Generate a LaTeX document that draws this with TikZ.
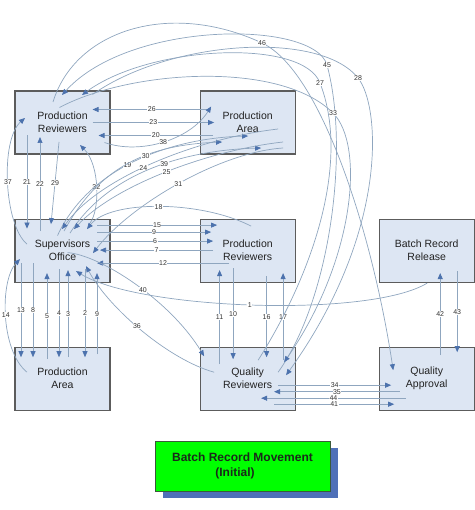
\documentclass[tikz,border=0pt]{standalone}
\usepackage{fontspec}
\setmainfont{Liberation Sans}
\usepackage{tikz}
\usetikzlibrary{arrows.meta, positioning, calc, shadows}
\definecolor{boxfill}{HTML}{DDE6F3}
\definecolor{boxline}{HTML}{5C5C5C}
\definecolor{boxtext}{HTML}{222222}
\definecolor{linkblue}{HTML}{8FA6BF}
\definecolor{tipblue}{HTML}{4C72AD}
\definecolor{lbltext}{HTML}{333333}
\definecolor{titlegreen}{HTML}{00FF00}
\definecolor{titleline}{HTML}{3A5A3A}
\definecolor{titletext}{HTML}{1A2A1A}
\definecolor{shadowblue}{HTML}{4F70B8}
\tikzset{
    box/.style={rectangle, draw=boxline, fill=boxfill, line width=1.1pt, minimum width=95pt, minimum height=63pt, align=center, text=boxtext, font=\fontsize{10.5}{13}\selectfont},
    conn/.style={-{Triangle[length=6pt, width=5pt, color=tipblue]}, draw=linkblue, line width=0.7pt},
    lbl/.style={fill=white, inner sep=0.5pt, text=lbltext, font=\fontsize{7}{8}\selectfont},
    titlebox/.style={rectangle, draw=titleline, fill=titlegreen, line width=1pt, minimum width=175pt, minimum height=50pt, align=center, text=titletext, font=\fontsize{12}{15.5}\selectfont\bfseries, drop shadow={shadow xshift=8pt, shadow yshift=-7pt, fill=shadowblue, opacity=1}}
}
\begin{document}
\begin{tikzpicture}[x=1pt, y=-1pt]
    \useasboundingbox (0,0) rectangle (474,510);

    \node [box] (pr) at (62.5,122.5) {Production\\Reviewers};
    \node [box, right=89pt of pr] (pat) {Production\\Area};
    \node [box, below=64pt of pr] (so) {Supervisors\\Office};
    \node [box, right=89pt of so] (prm) {Production\\Reviewers};
    \node [box, right=83pt of prm] (brr) {Batch Record\\Release};
    \node [box, below=64pt of so] (pab) {Production\\Area};
    \node [box, right=89pt of pab] (qr) {Quality\\Reviewers};
    \node [box, right=83pt of qr] (qa) {Quality\\Approval};

    \node [titlebox] (ttl) at (242.5,466) {Batch Record Movement\\(Initial)\hspace*{15pt}};

    % production reviewers <-> production area
    \draw [conn] ($(pat)+(-36.5,-13)$) -- node [lbl] {26} ($(pr)+(30,-13)$);
    \draw [conn] ($(pr)+(30,0)$) -- node [lbl] {23} ($(pat)+(-33.5,0)$);
    \draw [conn] ($(pat)+(-34.5,13)$) -- node [lbl] {20} ($(pr)+(36,13)$);
    \draw [conn] ($(pr)+(42,20)$) .. controls (140,155) and (190,140) .. ($(pat)+(-36.5,-16)$) node [lbl, pos=.5] {38};

    % production reviewers <-> supervisors office
    \draw [conn] ($(pr)+(-35.5,13)$) -- node [lbl] {21} ($(so)+(-35.5,-22)$);
    \draw [conn] ($(so)+(-22.5,-19.5)$) -- node [lbl] {22} ($(pr)+(-22.5,14.5)$);
    \draw [conn] ($(pr)+(-3.5,19.5)$) -- node [lbl] {29} ($(so)+(-11.5,-26.5)$);
    \draw [conn] ($(so)+(-35.5,-6.5)$) .. controls (4,225) and (0,140) .. ($(pr)+(-37.5,-4.5)$) node [lbl, pos=.5] {37};
    \draw [conn] ($(so)+(27.5,-27.5)$) .. controls (100,210) and (100,165) .. ($(pr)+(17.5,22.5)$) node [lbl, pos=.5] {32};

    % supervisors office <-> production area (top)
    \draw [conn] ($(so)+(-5,-15)$) .. controls (90,165) and (175,138) .. ($(pat)+(0.5,13.5)$) node [lbl, pos=.45] {19};
    \draw [conn] ($(so)+(1.5,-19.5)$) .. controls (100,165) and (150,145) .. ($(pat)+(-25.5,19.5)$) node [lbl, pos=.6] {30};
    \draw [conn] ($(pat)+(30.5,6.5)$) .. controls (200,138) and (100,176) .. ($(so)+(-0.5,-21.5)$) node [lbl, pos=.55] {24};
    \draw [conn] ($(so)+(7.5,-17.5)$) .. controls (110,170) and (190,150) .. ($(pat)+(13.5,25.5)$) node [lbl, pos=.55] {39};
    \draw [conn] ($(pat)+(35.5,19.5)$) .. controls (210,150) and (115,185) .. ($(so)+(11.5,-21.5)$) node [lbl, pos=.5] {25};
    \draw [conn] ($(pat)+(35.5,25.5)$) .. controls (220,152) and (130,205) .. ($(so)+(30.5,2.5)$) node [lbl, pos=.5] {31};

    % supervisors office <-> production reviewers (middle)
    \draw [conn] ($(prm)+(3.5,-24.5)$) .. controls (200,200) and (110,200) .. ($(so)+(24.5,-21.5)$) node [lbl, pos=.5] {18};
    \draw [conn] ($(so)+(34.5,-25.5)$) -- node [lbl] {15} ($(prm)+(-30.5,-25.5)$);
    \draw [conn] ($(so)+(34.5,-18.5)$) -- node [lbl] {9} ($(prm)+(-36.5,-18.5)$);
    \draw [conn] ($(so)+(34.5,-9.5)$) -- node [lbl] {6} ($(prm)+(-34.5,-9.5)$);
    \draw [conn] ($(prm)+(-34.5,-0.5)$) -- node [lbl] {7} ($(so)+(37.5,-0.5)$);
    \draw [conn] ($(prm)+(-18.5,12.5)$) -- node [lbl] {12} ($(so)+(34.5,12.5)$);

    % supervisors office <-> production area (bottom)
    \draw [conn] ($(so)+(-41.5,12.5)$) -- node [lbl] {13} ($(pab)+(-41.5,-21.5)$);
    \draw [conn] ($(so)+(-29.5,12.5)$) -- node [lbl] {8} ($(pab)+(-29.5,-21.5)$);
    \draw [conn] ($(pab)+(-15.5,-19.5)$) -- node [lbl] {5} ($(so)+(-15.5,22.5)$);
    \draw [conn] ($(so)+(-3.5,18.5)$) -- node [lbl] {4} ($(pab)+(-3.5,-21.5)$);
    \draw [conn] ($(pab)+(5.5,-21.5)$) -- node [lbl] {3} ($(so)+(5.5,19.5)$);
    \draw [conn] ($(so)+(22.5,18.5)$) -- node [lbl] {2} ($(pab)+(22.5,-21.5)$);
    \draw [conn] ($(pab)+(34.5,-24.5)$) -- node [lbl] {9} ($(so)+(34.5,22.5)$);
    \draw [conn] ($(pab)+(-35.5,-6.5)$) .. controls (0,350) and (0,280) .. ($(so)+(-42.5,8.5)$) node [lbl, pos=.5] {14};

    % into supervisors office from the right
    \draw [conn] ($(brr)+(0.5,32.5)$) .. controls (370,318) and (140,310) .. ($(so)+(13.5,20.5)$) node [lbl, pos=.51] {1};
    \draw [conn] ($(so)+(5,2)$) .. controls (100,255) and (170,300) .. ($(qr)+(-43.5,-22.5)$) node [lbl, pos=.55] {40};
    \draw [conn] ($(qr)+(-33.5,-6.5)$) .. controls (170,360) and (110,310) .. ($(so)+(23.5,15.5)$) node [lbl, pos=.54] {36};

    % production reviewers <-> quality reviewers
    \draw [conn] ($(qr)+(-28,-14.5)$) -- node [lbl] {11} ($(prm)+(-28,19.5)$);
    \draw [conn] ($(prm)+(-14.5,17.5)$) -- node [lbl] {10} ($(qr)+(-14.5,-19.5)$);
    \draw [conn] ($(prm)+(19,25.5)$) -- node [lbl] {16} ($(qr)+(19,-21.5)$);
    \draw [conn] ($(qr)+(35.5,-18.5)$) -- node [lbl] {17} ($(prm)+(35.5,22.5)$);

    % quality reviewers <-> quality approval
    \draw [conn] ($(qr)+(30.5,6.5)$) -- node [lbl] {34} ($(qa)+(-35.5,6.5)$);
    \draw [conn] ($(qa)+(-27,13)$) -- node [lbl] {35} ($(qr)+(26.5,13)$);
    \draw [conn] ($(qa)+(-21,19.5)$) -- node [lbl] {44} ($(qr)+(13.5,19.5)$);
    \draw [conn] ($(qr)+(26.5,25.5)$) -- node [lbl] {41} ($(qa)+(-32.5,25.5)$);

    % batch record release <-> quality approval
    \draw [conn] ($(qa)+(13.5,-23.5)$) -- node [lbl] {42} ($(brr)+(13.5,22.5)$);
    \draw [conn] ($(brr)+(30.5,20.5)$) -- node [lbl] {43} ($(qa)+(30.5,-26.5)$);

    % long arcs over the top
    \draw [conn] ($(pr)+(-9.5,-20.5)$) .. controls (75,30) and (170,0) .. (262,43) node [lbl] {46}
        .. controls (320,70) and (372,230) .. ($(qa)+(-33.5,-8.5)$);
    \draw [conn] ($(qr)+(30.5,-6.5)$) .. controls (330,300) and (350,150) .. (327,65) node [lbl] {45}
        .. controls (314,20) and (130,20) .. ($(pr)+(-0.5,-27.5)$);
    \draw [conn] ($(qr)+(10.5,-18.5)$) .. controls (315,270) and (350,160) .. (320,83) node [lbl] {27}
        .. controls (303,38) and (150,45) .. ($(pr)+(19.5,-27.5)$);
    \draw [conn] ($(pr)+(30,-28)$) .. controls (170,40) and (320,30) .. (358,78) node [lbl] {28}
        .. controls (380,105) and (390,230) .. ($(qr)+(38.5,-3.5)$);
    \draw [conn] ($(pr)+(-3,-15)$) .. controls (130,70) and (280,60) .. (333,113) node [lbl] {33}
        .. controls (365,145) and (355,260) .. ($(qr)+(36.5,-16.5)$);
\end{tikzpicture}
\end{document}
